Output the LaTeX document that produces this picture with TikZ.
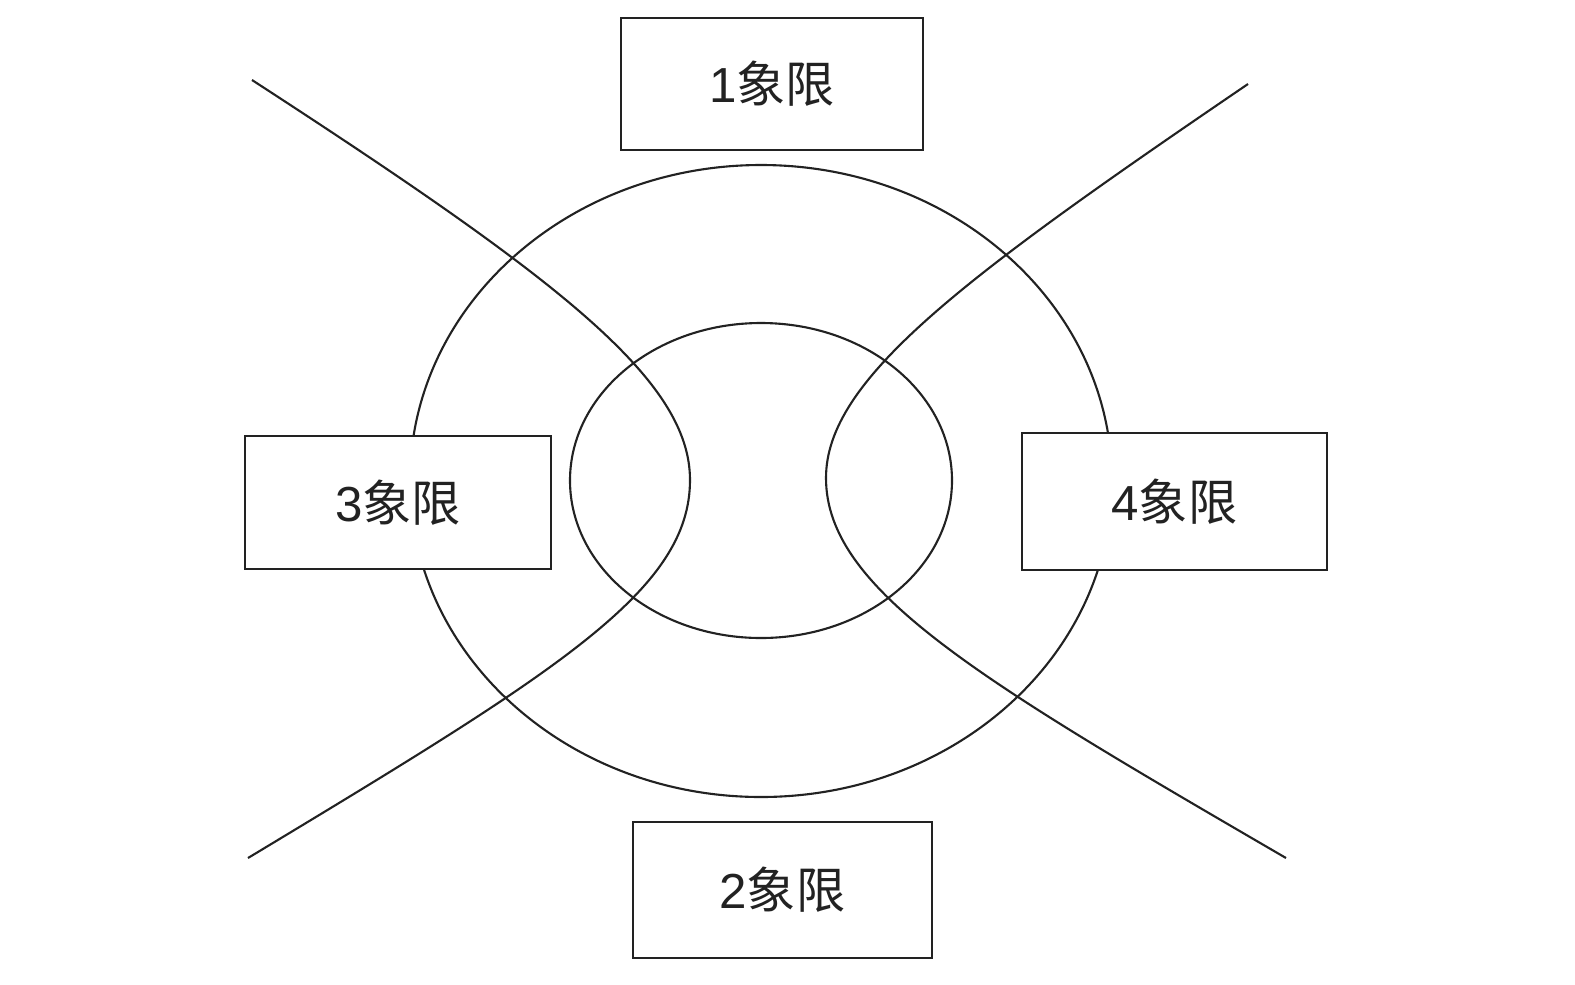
\documentclass[tikz,border=0pt]{standalone}
\usepackage{fontspec}
\setmainfont{Liberation Sans}
\newfontfamily\cjk{Noto Sans CJK SC}
\definecolor{ink}{HTML}{222222}
\begin{document}
\begin{tikzpicture}[x=0.01cm,y=-0.01cm,
  quad/.style={draw=ink,line width=0.75pt,fill=white,inner sep=0pt,text=ink,font=\fontsize{14}{16}\selectfont},
  curve/.style={draw=ink,line width=0.6pt}]
\useasboundingbox (0,0) rectangle (1575,984);
\draw[curve] (761,481) ellipse [x radius=351, y radius=316];
\draw[curve] (761,480.5) ellipse [x radius=191, y radius=157.5];
\coordinate (lt) at (252,80);
\coordinate (lv) at (690,480);
\coordinate (lb) at (248,858);
\coordinate (rt) at (1248,84);
\coordinate (rv) at (826,478);
\coordinate (rb) at (1286,858);
\draw[curve] (lt) .. controls (560,280) and (690,380) .. (lv) .. controls (690,590) and (560,670) .. (lb);
\draw[curve] (rt) .. controls (960,280) and (826,380) .. (rv) .. controls (826,590) and (980,680) .. (rb);
\node[quad,minimum width=3.02cm,minimum height=1.32cm] (q1) at (772,84) {1{\cjk 象限}};
\node[quad,minimum width=3.06cm,minimum height=1.33cm] (q3) at (398,502.5) {3{\cjk 象限}};
\node[quad,minimum width=3.05cm,minimum height=1.37cm] (q4) at (1174.5,501.5) {4{\cjk 象限}};
\node[quad,minimum width=2.99cm,minimum height=1.36cm] (q2) at (782.5,890) {2{\cjk 象限}};
\end{tikzpicture}
\end{document}
